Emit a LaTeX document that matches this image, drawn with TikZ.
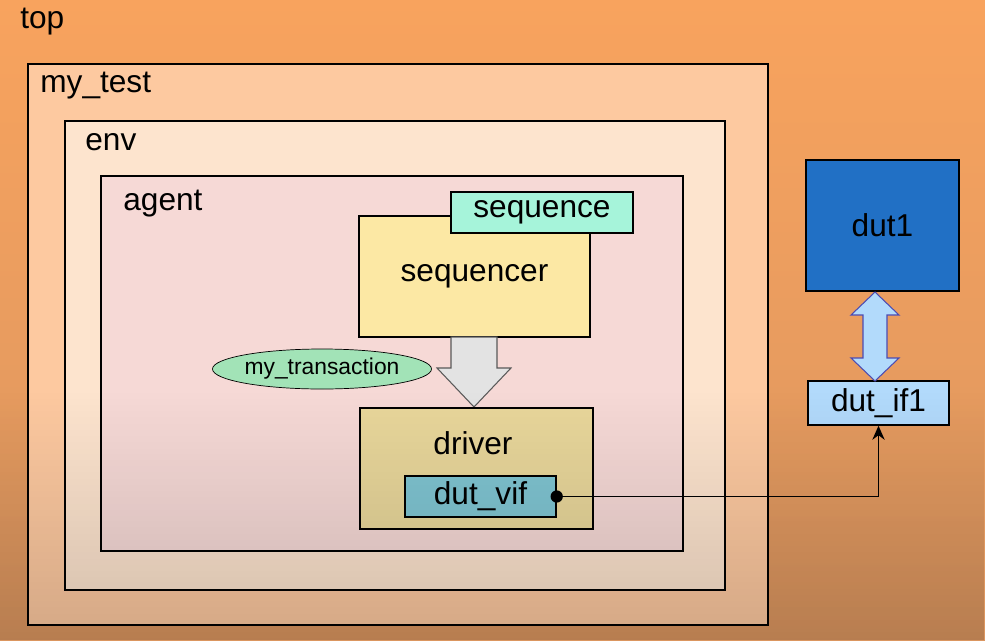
\documentclass[tikz,border=0pt]{standalone}
\usepackage{fontspec}
\setmainfont{Liberation Sans}
\usetikzlibrary{shapes.geometric,arrows.meta,fadings}
\definecolor{bgtop}{HTML}{F8A35E}
\definecolor{bgbot}{HTML}{DB9660}
\definecolor{testc}{HTML}{FDC9A0}
\definecolor{envc}{HTML}{FDE4CE}
\definecolor{agentc}{HTML}{F6D9D6}
\definecolor{seqrc}{HTML}{FCE8A4}
\definecolor{seqc}{HTML}{A6F4DA}
\definecolor{trc}{HTML}{A2E3B7}
\definecolor{vifc}{HTML}{80C5D2}
\definecolor{dutc}{HTML}{2170C5}
\definecolor{ifc}{HTML}{B2DAFB}
\tikzset{
  box/.style={draw=black, line width=0.8pt},
  lbl/.style={anchor=north west, inner sep=0pt, font=\fontsize{18}{20}\selectfont},
  big/.style={font=\fontsize{18}{20}\selectfont},
}
\begin{document}
\begin{tikzpicture}[x=0.02cm,y=-0.02cm]
\useasboundingbox (0,0) rectangle (985,640);
\shade[top color=bgtop, bottom color=bgbot] (0,0) rectangle (985,640);
% nested containers
\draw[box, fill=testc] (28,64) rectangle (768,625);
\node[lbl] (ltest) at (40,72) {my\_test};
\draw[box, fill=envc] (65,121) rectangle (725,590);
\node[lbl] (lenv) at (85,133) {env};
\draw[box, fill=agentc] (101,176) rectangle (683,551);
\node[lbl] (lagent) at (123,190) {agent};
\node[lbl] (ltop) at (20,8) {top};
% sequencer and sequence
\node[box, fill=seqrc, minimum width=231*0.02cm, minimum height=121*0.02cm, big] (seqr) at (474.5,276.5) {sequencer};
\node[box, fill=seqc, minimum width=182*0.02cm, minimum height=41*0.02cm, big] (seq) at (542,212.5) {sequence};
% transfer arrow
\draw[draw=gray!70!black, fill=gray!22, line width=0.6pt]
  (451,337) -- (497,337) -- (497,368) -- (511,368) -- (474,407) -- (437,368) -- (451,368) -- cycle;
\node[ellipse, draw=black, fill=trc, minimum width=208*0.02cm, minimum height=40*0.02cm,
      inner sep=0pt, font=\fontsize{13}{15}\selectfont] (tr) at (322,369) {my\_transaction};
% driver
\node[box, fill=seqrc!92!black!96, minimum width=233*0.02cm, minimum height=121*0.02cm] (drv) at (476.5,468.5) {};
\node[big] (ldrv) at (473,443) {driver};
\node[box, fill=vifc, minimum width=151*0.02cm, minimum height=39*0.02cm, big] (vif) at (480.5,496.5) {dut\_vif};
% dut
\node[box, fill=dutc, minimum width=153*0.02cm, minimum height=131*0.02cm, big] (dut) at (882.5,225.5) {dut1};
\node[box, fill=ifc, minimum width=141*0.02cm, minimum height=44*0.02cm, big] (dif) at (878.5,403) {dut\_if1};
\draw[draw=gray!60!blue, fill=ifc, line width=0.6pt]
  (851,315) -- (875,292) -- (899,315) -- (887,315) -- (887,358) -- (899,358)
  -- (875,381) -- (851,358) -- (863,358) -- (863,315) -- cycle;
% connector
\fill (vif.east) circle (3.5pt);
\draw[line width=1pt, -{Stealth[length=8pt,width=7pt]}] (vif.east) -| (dif.south);
% bottom darkening
\fill[black, opacity=0.16, path fading=north] (0,390) rectangle (985,640);
\end{tikzpicture}
\end{document}
